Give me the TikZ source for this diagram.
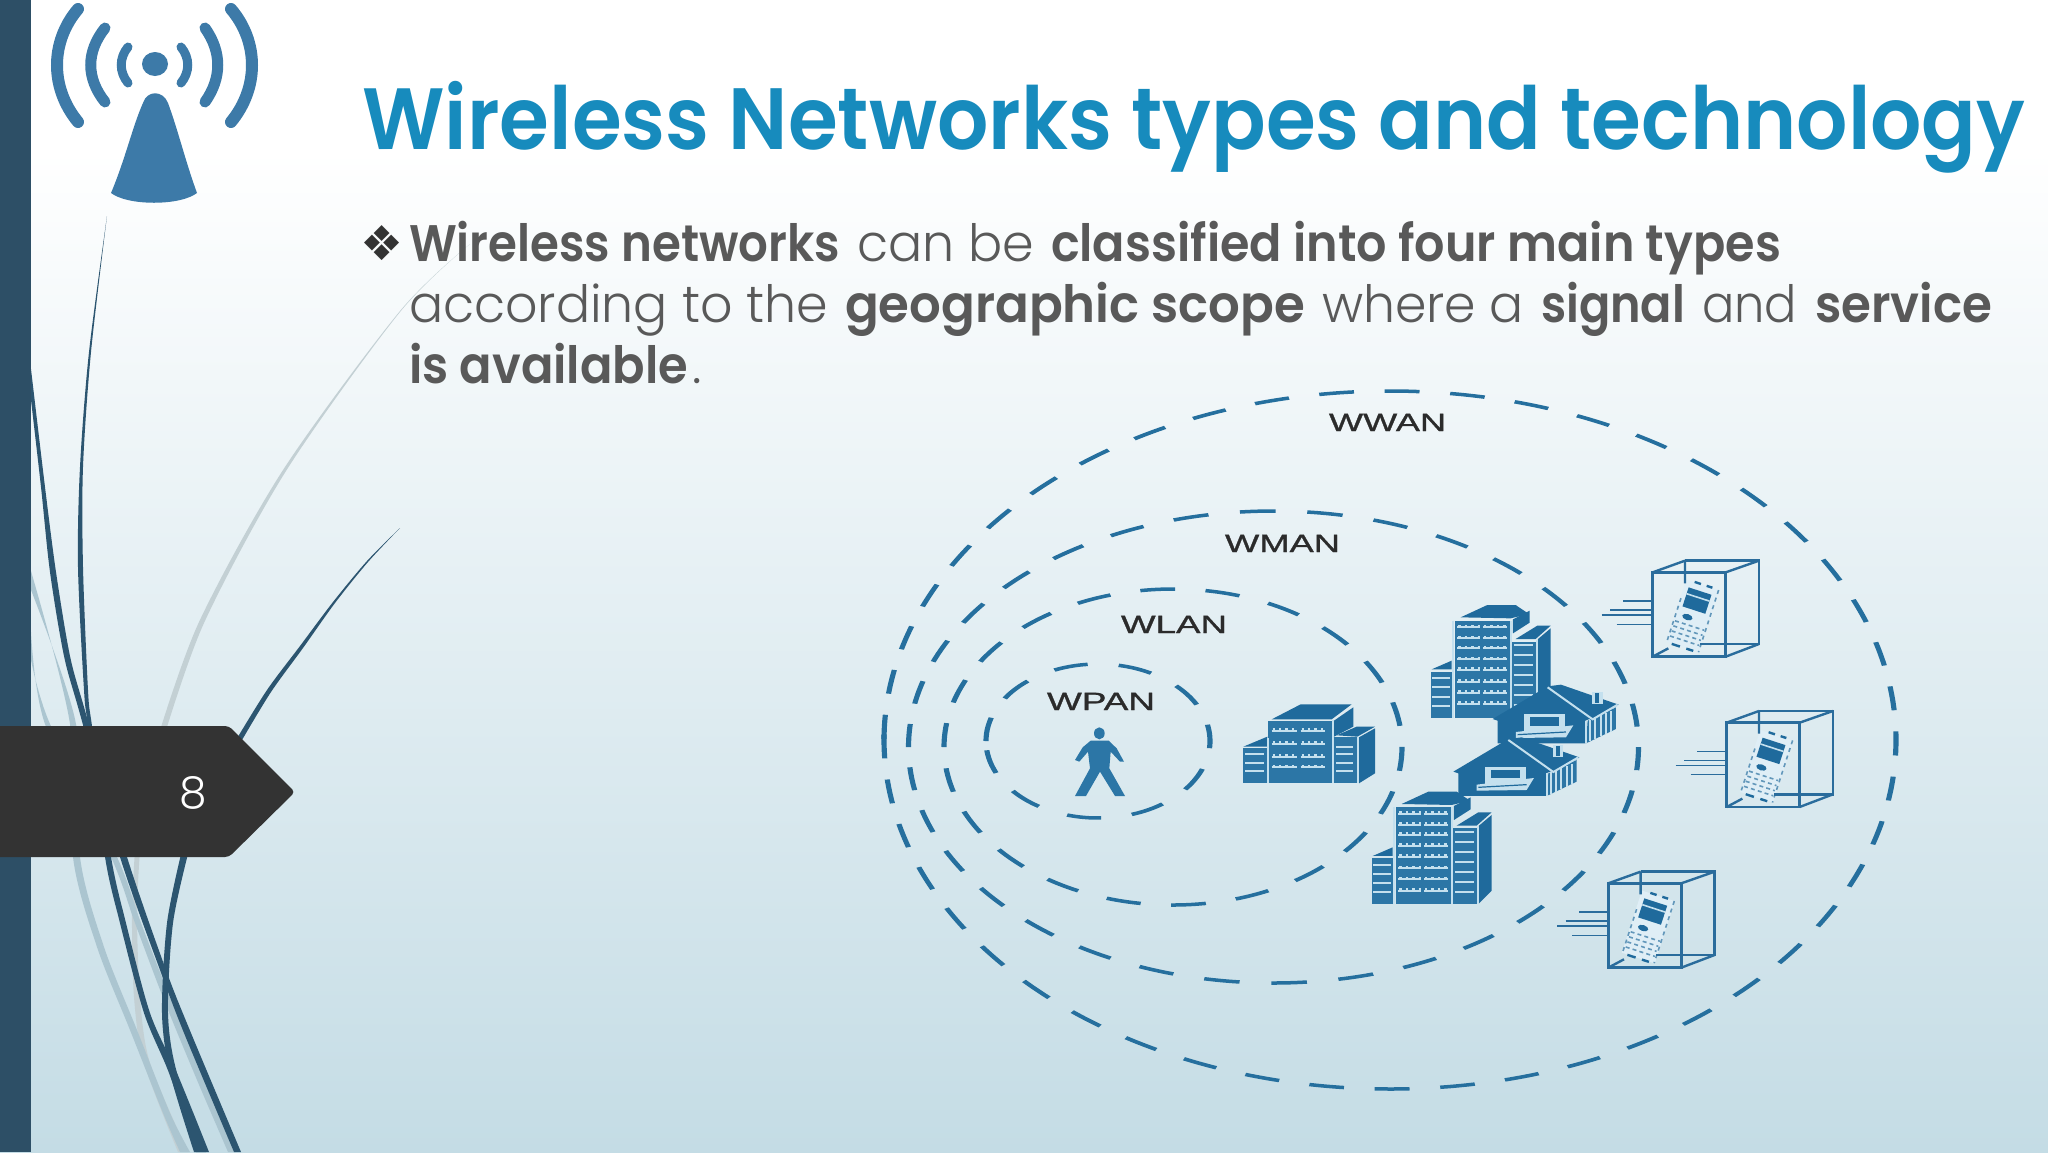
\documentclass[tikz,border=0pt]{standalone}
\usepackage{graphicx}
\usepackage{fontspec}
\setmainfont{Poppins}
\newfontfamily\pbold{Poppins SemiBold}
\newfontfamily\plight{Poppins Light}
\newfontfamily\lsans[FakeBold=0.9]{Liberation Sans}
\newfontfamily\dejavu{DejaVu Sans}
\newlength\pxu \setlength\pxu{0.5pt}
\newcommand\fitw[2]{\resizebox{#1\pxu}{\height}{#2}}
\definecolor{barc}{HTML}{2D4F66}
\definecolor{curved}{HTML}{2C5570}
\definecolor{curveg}{HTML}{C3D0D4}
\definecolor{curveh}{HTML}{ABC5D0}
\definecolor{iconc}{HTML}{3D7AA8}
\definecolor{titlec}{HTML}{178BBD}
\definecolor{bodyc}{HTML}{595959}
\definecolor{pentc}{HTML}{333333}
\definecolor{dashc}{HTML}{256F9E}
\definecolor{bldc}{HTML}{1F6A9C}
\definecolor{bldf}{HTML}{2C76A6}
\definecolor{bldl}{HTML}{C4E0EE}
\definecolor{boxc}{HTML}{2A6C9C}
\definecolor{labc}{HTML}{2B2B2B}
\definecolor{bgbot}{HTML}{C4DCE5}
\tikzset{
  txt/.style={anchor=base west,inner sep=0pt,outer sep=0pt,font=\fontsize{25.7pt}{30pt}\selectfont,text=bodyc},
  lab/.style={anchor=base west,inner sep=0pt,outer sep=0pt,font=\lsans\fontsize{12.5pt}{15pt}\selectfont,text=labc},
  ring/.style={draw=dashc,line width=1.75pt},
  wave/.style={draw=iconc,line width=#1,line cap=round},
  sill/.style={draw=bldl,line width=1pt},
  tick/.style={draw=bldl,line width=0.9pt,dash pattern=on 1.2pt off 2pt},
  bx/.style={draw=boxc,line width=1.2pt},
}
% one dashed ring: centre x, centre y, radii, first angle, period, dash, last index
\newcommand\ringdash[8]{
  \foreach \i in {0,...,#8}{
    \pgfmathsetmacro\ta{#5+\i*#6}
    \pgfmathsetmacro\tb{\ta+#7}
    \draw[ring] plot[domain=\ta:\tb,samples=7,smooth] ({(#1+#3*cos(\x))/1.475},{#2+#4*sin(\x)});
  }
}
% tall office block, drawn in the zoom coordinates of the lower block
\newcommand\tallblock{
  \fill[bldf] (648,742) rectangle (812,1033);
  \fill[bldc] (665,732) -- (745,695) -- (830,695) -- (870,722) -- (815,735) -- cycle;
  \fill[bldc] (822,738) -- (872,712) -- (872,748) -- (822,780) -- cycle;
  \fill[bldf] (575,895) rectangle (638,1033);
  \fill[bldc] (578,888) -- (638,862) -- (638,888) -- cycle;
  \fill[bldf] (820,805) rectangle (890,1033);
  \fill[bldc] (830,797) -- (895,757) -- (935,757) -- (890,797) -- cycle;
  \fill[bldc] (897,797) -- (935,765) -- (935,992) -- (897,1030) -- cycle;
  \foreach \y in {762,795,825,858,890,925,958,992}{
    \draw[sill] (655,\y) -- (722,\y) (732,\y) -- (805,\y);
    \draw[tick] (658,\y-5) -- (722,\y-5) (735,\y-5) -- (805,\y-5);
  }
  \foreach \y in {815,845,875,905,935,965,995}{\draw[sill] (825,\y) -- (882,\y);}
  \foreach \y in {915,942,970,997}{\draw[sill] (580,\y) -- (633,\y);}
  \draw[sill,line width=1pt] (643,742) -- (643,1033) (815,742) -- (815,1033) (893,800) -- (893,1033);
}
% house with a computer, drawn in the zoom coordinates of the lower house
\newcommand\housepc{
  \fill[bldc] (820,635) -- (985,537) -- (1118,632) -- (1098,640) -- (1098,708) -- (835,708) -- (835,640) -- cycle;
  \fill[bldc] (985,537) -- (1025,532) -- (1198,592) -- (1125,640) -- cycle;
  \fill[bldf] (1105,640) -- (1190,600) -- (1190,665) -- (1100,708) -- cycle;
  \draw[sill,line width=1pt] (985,540) -- (1120,636) -- (1195,592);
  \foreach \x in {1112,1128,1144,1160,1176}{\draw[sill,line width=1.1pt] (\x,{640-(\x-1105)*0.4}) -- (\x,{705-(\x-1105)*0.45});}
  \draw[sill,line width=1pt] (1100,640) -- (1100,708);
  \fill[bldl] (1118,555) rectangle (1150,590);
  \fill[bldc] (1128,558) rectangle (1140,588);
  \fill[bldl] (915,620) rectangle (1037,672);
  \fill[bldc] (932,630) rectangle (1020,655);
  \fill[bldl] (890,674) -- (1062,654) -- (1040,690) -- (890,692) -- cycle;
  \draw[bldc,line width=0.6pt] (895,682) -- (1040,674);
}
% cube with a handset, drawn in the zoom coordinates of the first cube
\newcommand\phonebox{
  \draw[bx,line width=0.8pt] (130,183) -- (218,183) (90,210) -- (218,210) (65,225) -- (218,225) (110,253) -- (218,253);
  \begin{scope}[shift={(338,228)},rotate=-18]
    \fill[bldl!55!white] (-52,-98) rectangle (52,98);
    \fill[bldc] (-38,-78) rectangle (34,-18);
    \draw[bldl,line width=0.8pt] (-38,-58) -- (34,-58);
    \fill[bldc] (-14,8) ellipse (16 and 9);
    \foreach \y in {30,46,62,78}{\draw[bldc!70,line width=0.8pt,dash pattern=on 2pt off 1.6pt] (-46,\y) -- (46,\y);}
    \draw[bldc!70,line width=0.8pt,dash pattern=on 2pt off 2pt] (50,-98) -- (50,98) (-50,-40) -- (-50,98);
    \draw[bldc,line width=1.2pt] (-34,99) -- (-8,99) (12,99) -- (34,99) (-26,-99) -- (-6,-99) (12,-99) -- (30,-99);
  \end{scope}
  \draw[bx] (218,97) rectangle (437,350);
  \draw[bx] (315,62) -- (537,62) -- (537,312) -- (360,312);
  \draw[bx] (218,97) -- (315,62) (437,97) -- (537,62) (437,350) -- (537,312);
  \draw[bx] (315,62) -- (315,130) (218,350) -- (265,325);
}
\begin{document}
\begin{tikzpicture}[x=0.5pt,y=-0.5pt]
\useasboundingbox (0,0) rectangle (2048,1152);
% background
\fill[white] (0,0) rectangle (2048,150);
\shade[top color=white,bottom color=bgbot] (0,150) rectangle (2048,1152);
% curves
\fill[curveg] plot[smooth] coordinates {(470,244) (400,311) (283,470) (199,622) (157,740)}
  -- plot[smooth] coordinates {(163,740) (204,623) (286,471) (400,312) (470,244)} -- cycle;
\fill[curveg] plot[smooth] coordinates {(135,850) (132,913) (134,997) (144,1063) (178,1152)}
  -- plot[smooth] coordinates {(188,1152) (150,1063) (140,997) (137,913) (140,850)} -- cycle;
\fill[curveh] plot[smooth] coordinates {(31,571) (70,724) (73,857) (97,947) (130,1030) (163,1113) (180,1152)}
  -- plot[smooth] coordinates {(190,1152) (170,1113) (137,1030) (104,947) (80,857) (76,724) (31,590)} -- cycle;
\fill[curveh] plot[smooth] coordinates {(31,632) (45,724) (111,857) (135,923) (164,1000) (197,1080) (228,1152)}
  -- plot[smooth] coordinates {(236,1152) (204,1080) (171,1000) (141,923) (117,857) (50,724) (31,660)} -- cycle;
\fill[curved] plot[smooth] coordinates {(107,216) (89,352) (80,467) (78,567) (84,690) (88,726) (105,857) (120,923) (144,1013) (169,1073) (196,1152)}
  -- plot[smooth] coordinates {(209,1152) (177,1073) (150,1013) (126,923) (111,857) (92,726) (88,690) (83,567) (83,467) (91,352) (107,216)} -- cycle;
\fill[curved] plot[smooth] coordinates {(31,400) (41,487) (50,572) (64,656) (80,714) (120,857) (160,970) (184,1033) (234,1152)}
  -- plot[smooth] coordinates {(241,1152) (191,1033) (166,970) (127,857) (86,714) (70,656) (56,572) (45,487) (31,369)} -- cycle;
\fill[curved] plot[smooth] coordinates {(400,528) (367,561) (333,602) (300,646) (267,690) (236,740)}
  -- plot[smooth] coordinates {(242,740) (271,692) (303,648) (335,603) (368,562) (400,528)} -- cycle;
\fill[curved] plot[smooth] coordinates {(182,850) (167,923) (162,1013) (170,1073) (194,1152)}
  -- plot[smooth] coordinates {(206,1152) (177,1073) (168,1013) (173,923) (189,850)} -- cycle;
% side bar and page tag
\fill[barc] (0,0) rectangle (31,1152);
\fill[pentc,rounded corners=2pt] (-10,726) -- (229,726) -- (295,792) -- (229,857) -- (-10,857) -- cycle;
\node[anchor=center,inner sep=0pt,text=white,font=\plight\fontsize{22pt}{26pt}\selectfont] (pageno) at (193,793) {8};
% antenna
\fill[iconc] (155,64) ellipse (13 and 12);
\fill[iconc] (111,193) .. controls (125,160) and (133,125) .. (143,103) .. controls (147,90) and (163,90) .. (168,103) .. controls (178,130) and (185,160) .. (197,193) .. controls (180,206) and (128,206) .. (111,193) -- cycle;
\draw[wave=4.5pt] (128,47) .. controls (119,58) and (119,72) .. (128,83);
\draw[wave=5.5pt] (105,28) .. controls (86,52) and (86,78) .. (105,102);
\draw[wave=6pt] (78,9) .. controls (50,42) and (50,88) .. (78,122);
\draw[wave=4.5pt] (181,47) .. controls (190,58) and (190,72) .. (181,83);
\draw[wave=5.5pt] (205,28) .. controls (222,52) and (222,78) .. (205,102);
\draw[wave=6pt] (231,9) .. controls (259,42) and (259,88) .. (231,122);
% title
\node[anchor=base west,inner sep=0pt,text=titlec,font=\pbold\fontsize{43.5pt}{50pt}\selectfont] (title) at (362,149) {\fitw{1663}{Wireless Networks types and technology}};
% bullet text
\node[anchor=center,inner sep=0pt,text=pentc,font=\dejavu\fontsize{24pt}{28pt}\selectfont] (bullet) at (382,243) {❖};
\node[txt,font=\pbold\fontsize{25.7pt}{30pt}\selectfont] (a1) at (409,261) {\fitw{431}{Wireless networks}};
\node[txt,font=\plight\fontsize{25.7pt}{30pt}\selectfont] (a2) at (857,261) {\fitw{177}{can be}};
\node[txt,font=\pbold\fontsize{25.7pt}{30pt}\selectfont] (a3) at (1051,261) {\fitw{730}{classified into four main types}};
\node[txt,font=\plight\fontsize{25.7pt}{30pt}\selectfont] (b1) at (409,322) {\fitw{419}{according to the}};
\node[txt,font=\pbold\fontsize{25.7pt}{30pt}\selectfont] (b2) at (845,322) {\fitw{460}{geographic scope}};
\node[txt,font=\plight\fontsize{25.7pt}{30pt}\selectfont] (b3) at (1322,322) {\fitw{202}{where a}};
\node[txt,font=\pbold\fontsize{25.7pt}{30pt}\selectfont] (b4) at (1541,322) {\fitw{144}{signal}};
\node[txt,font=\plight\fontsize{25.7pt}{30pt}\selectfont] (b5) at (1702,322) {\fitw{95}{and}};
\node[txt,font=\pbold\fontsize{25.7pt}{30pt}\selectfont] (b6) at (1815,322) {\fitw{177}{service}};
\node[txt,font=\pbold\fontsize{25.7pt}{30pt}\selectfont] (c1) at (409,383) {\fitw{279}{is available}};
\node[txt,font=\plight\fontsize{25.7pt}{30pt}\selectfont] (c2) at (692,383) {.};
% rings: uniform in angle, widened sideways like the reference
\begin{scope}[transform canvas={xscale=1.475}]
  \ringdash{1390}{740}{506}{349}{180.2}{7.433}{3.95}{48}
  \ringdash{1273.5}{747}{365}{236}{180}{10.59}{5.6}{33}
  \ringdash{1173}{747}{229}{158}{180}{16.36}{8.7}{21}
  \ringdash{1098}{741}{112}{77}{180}{33.55}{17.6}{10}
\end{scope}
% labels
\node[lab] (wwan) at (1329,431) {\fitw{117}{WWAN}};
\node[lab] (wman) at (1225,552) {\fitw{115}{WMAN}};
\node[lab] (wlan) at (1121,633) {\fitw{106}{WLAN}};
\node[lab] (wpan) at (1047,710) {\fitw{108}{WPAN}};
% person
\begin{scope}[shift={(1000,640)},scale=0.3333]
  \fill[bldf] (298,280) ellipse (16 and 18);
  \fill[bldf] (272,302) -- (326,302) -- (350,325) -- (372,365) -- (360,365) -- (332,335) -- (328,385) -- (375,468) -- (345,468) -- (300,395) -- (258,468) -- (225,468) -- (270,385) -- (264,335) -- (238,365) -- (225,360) -- (248,322) -- cycle;
\end{scope}
% buildings and houses
\begin{scope}[shift={(1180,560)},scale=0.3333]
  \begin{scope}[shift={(177,-560)}]\tallblock\end{scope}
  \tallblock
  % low block
  \fill[bldf] (265,482) rectangle (458,670);
  \fill[bldc] (275,478) -- (362,433) -- (515,433) -- (455,478) -- cycle;
  \fill[bldc] (462,482) -- (520,442) -- (520,500) -- (462,530) -- cycle;
  \fill[bldf] (188,565) rectangle (262,670);
  \fill[bldc] (190,560) -- (262,530) -- (262,560) -- cycle;
  \fill[bldf] (462,530) rectangle (532,670);
  \fill[bldc] (470,526) -- (530,500) -- (585,500) -- (532,530) -- cycle;
  \fill[bldc] (537,532) -- (585,505) -- (585,640) -- (537,670) -- cycle;
  \foreach \y in {512,552,590,622}{
    \draw[sill] (275,\y) -- (350,\y) (362,\y) -- (435,\y);
    \draw[tick] (278,\y-5) -- (350,\y-5) (365,\y-5) -- (435,\y-5);
  }
  \foreach \y in {560,582,608,634}{\draw[sill] (468,\y) -- (520,\y);}
  \foreach \y in {582,608,634}{\draw[sill] (196,\y) -- (252,\y);}
  \draw[sill,line width=1pt] (264,535) -- (264,670) (460,480) -- (460,670) (534,530) -- (534,670);
  \begin{scope}[shift={(118,-158)}]\housepc\end{scope}
  \housepc
\end{scope}
% handsets
\begin{scope}[shift={(1580,540)},scale=0.3333]
  \phonebox
  \begin{scope}[shift={(222,451)}]\phonebox\end{scope}
  \begin{scope}[shift={(-133,933)}]\phonebox\end{scope}
\end{scope}
\end{tikzpicture}
\end{document}
